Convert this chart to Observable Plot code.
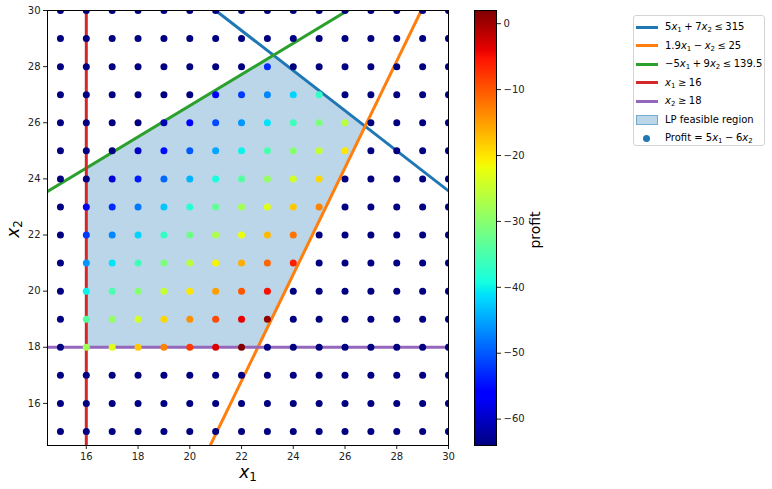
<!DOCTYPE html>
<html>
<head>
<meta charset="utf-8">
<script src="https://cdn.jsdelivr.net/npm/d3@7"></script>
<script src="https://cdn.jsdelivr.net/npm/@observablehq/plot@0.6"></script>
<style>
  body { margin: 0; background: #fff; font-family: "DejaVu Sans", sans-serif; }
  #wrap { position: relative; width: 772px; height: 489px; overflow: hidden; }
  #wrap > * { position: absolute; }
  .lbl { font-size: 17px; color: #000; white-space: nowrap; }
  .lbl sub { font-size: 70%; vertical-align: -0.3em; }
  #legend { left: 633px; top: 15px; width: 132px; height: 131px; border: 1px solid #d4d4d4; border-radius: 3px; box-sizing: border-box; background: #fff; font-size: 10px; }
  #legend .row { position: absolute; left: 0; height: 18px; width: 130px; }
  #legend .txt { position: absolute; left: 31px; top: 0; line-height: 18px; white-space: nowrap; color: #000; }
  #legend .txt sub { font-size: 70%; vertical-align: -0.3em; line-height: 0; }
  #legend .sw { position: absolute; left: 2px; top: 7.5px; width: 22px; height: 3px; }
</style>
</head>
<body>
<div id="wrap"></div>
<script>
// ---- data ----
const gridX1 = [15,16,17,18,19,20,21,22,23,24,25,26,27,28,29,30];
const gridX2 = [15,16,17,18,19,20,21,22,23,24,25,26,27,28,29,30];
// feasible integer points per row: x2 -> [x1 min, x1 max]
const feasRowX2   = [18,19,20,21,22,23,24,25,26,27,28];
const feasRowMin  = [16,16,16,16,16,16,16,18,19,21,23];
const feasRowMax  = [22,23,23,24,24,25,25,26,26,25,23];
// profit coefficients (legend: Profit = 5x1 - 6x2)
const profitCoef = [5, -6];
// constraints a*x1 + b*x2 <= c
const consA = [5, 1.9, -5];
const consB = [7, -1, 9];
const consC = [315, 25, 139.5];
const consColor = ["#1f77b4", "#ff7f0e", "#2ca02c"];
const x1Bound = 16, x2Bound = 18;
const xTicks = [16,18,20,22,24,26,28,30];
const yTicks = [16,18,20,22,24,26,28,30];
const cbTicks = [0,-10,-20,-30,-40,-50,-60];
const profitDomain = [-64, 2];
// jet colormap stops
const jetPos = [0,0.11,0.125,0.34,0.35,0.375,0.64,0.65,0.66,0.89,0.91,1];
const jetCol = ["#000080","#0000ff","#0000ff","#00dbff","#00e5f7","#15ffe2","#eeff08","#f7f500","#ffec00","#ff1300","#e80000","#800000"];

// ---- build tables ----
const feasSet = new Set();
feasRowX2.forEach((x2, i) => { for (let x1 = feasRowMin[i]; x1 <= feasRowMax[i]; x1++) feasSet.add(x1 + "," + x2); });
const points = [];
for (const x1 of gridX1) for (const x2 of gridX2) {
  const feas = feasSet.has(x1 + "," + x2);
  points.push({x1, x2, feas, profit: profitCoef[0]*x1 + profitCoef[1]*x2});
}
const infeas = points.filter(d => !d.feas);
const feas = points.filter(d => d.feas);

const xDom = [14.5, 30], yDom = [14.5, 30];
const lines = [];
consA.forEach((a, i) => {
  for (const x1 of xDom) lines.push({k: i, x1, x2: (consC[i] - a*x1)/consB[i]});
});

// feasible polygon vertices from constraint lines
const allA = [...consA, -1, 0], allB = [...consB, 0, -1], allC = [...consC, -x1Bound, -x2Bound];
const verts = [];
for (let i = 0; i < allA.length; i++) for (let j = i+1; j < allA.length; j++) {
  const det = allA[i]*allB[j] - allA[j]*allB[i];
  if (Math.abs(det) < 1e-9) continue;
  const x = (allC[i]*allB[j] - allC[j]*allB[i]) / det;
  const y = (allA[i]*allC[j] - allA[j]*allC[i]) / det;
  if (allA.every((a, k) => a*x + allB[k]*y <= allC[k] + 1e-7)) verts.push([x, y]);
}
const idx = consA.map((a, k) => k);
const lo = x => Math.max(x2Bound, ...idx.filter(k => consB[k] < 0).map(k => (consC[k]-consA[k]*x)/consB[k]));
const hi = x => Math.min(...idx.filter(k => consB[k] > 0).map(k => (consC[k]-consA[k]*x)/consB[k]));
const xs = Array.from(new Set(verts.map(v => +v[0].toFixed(9)))).sort((a,b)=>a-b);
const region = xs.map(x => ({x, lo: lo(x), hi: hi(x)}));

const colorScale = {
  type: "linear",
  domain: jetPos.map(t => profitDomain[0] + t*(profitDomain[1]-profitDomain[0])),
  range: jetCol,
  interpolate: "rgb",
  clamp: true
};

const font = {fontFamily: "DejaVu Sans", fontSize: "10px", color: "#222", background: "transparent", overflow: "visible"};

const main = Plot.plot({
  width: 460, height: 489,
  marginLeft: 47, marginRight: 12, marginTop: 10, marginBottom: 44,
  style: font,
  x: {domain: xDom, ticks: xTicks, tickSize: 4, tickPadding: 3, label: null},
  y: {domain: yDom, ticks: yTicks, tickSize: 4, tickPadding: 3, label: null},
  color: colorScale,
  marks: [
    Plot.areaY(region, {x: "x", y1: "lo", y2: "hi", fill: "#1f77b4", fillOpacity: 0.3, curve: "linear"}),
    Plot.line(lines, {x: "x1", y: "x2", z: "k", stroke: d => consColor[d.k], strokeWidth: 3, clip: true}),
    Plot.ruleX([x1Bound], {stroke: "#d62728", strokeWidth: 3}),
    Plot.ruleY([x2Bound], {stroke: "#9467bd", strokeWidth: 3}),
    Plot.dot(infeas, {x: "x1", y: "x2", r: 3.5, fill: jetCol[0], clip: true}),
    Plot.dot(feas, {x: "x1", y: "x2", r: 3.5, fill: "profit", clip: true}),
    Plot.frame({stroke: "#000", strokeWidth: 1})
  ]
});
main.style.left = "0px"; main.style.top = "0px";

const cbar = Plot.plot({
  width: 100, height: 489,
  marginLeft: 14, marginRight: 64, marginTop: 10, marginBottom: 44,
  style: font,
  x: {domain: [0, 1], axis: null},
  y: {domain: profitDomain, ticks: cbTicks, axis: "right", tickSize: 4, tickPadding: 3, label: null, tickFormat: d => d < 0 ? "\u2212" + Math.abs(d) : String(d)},
  color: colorScale,
  marks: [
    Plot.raster({x1: 0, x2: 1, y1: profitDomain[0], y2: profitDomain[1], width: 1, height: 400, fill: (x, y) => y, imageRendering: "auto"}),
    Plot.frame({stroke: "#000", strokeWidth: 1})
  ]
});
cbar.style.left = "460px"; cbar.style.top = "0px";

const wrap = document.getElementById("wrap");
wrap.appendChild(main);
wrap.appendChild(cbar);

function addLabel(html, x, y, rot, size) {
  const d = document.createElement("div");
  d.className = "lbl";
  d.innerHTML = html;
  d.style.left = x + "px"; d.style.top = y + "px";
  d.style.fontSize = size + "px";
  d.style.transform = "translate(-50%,-50%)" + (rot ? " rotate(-90deg)" : "");
  wrap.appendChild(d);
}
addLabel("<i>x</i><sub>1</sub>", 248, 473, false, 17);
addLabel("<i>x</i><sub>2</sub>", 14, 229, true, 17);
addLabel("profit", 535, 230, true, 14);

// legend
const sp = "\u2005";
const leg = document.createElement("div");
leg.id = "legend";
const entries = [
  {kind: "line", color: consColor[0], html: `5<i>x</i><sub>1</sub>${sp}+${sp}7<i>x</i><sub>2</sub>${sp}\u2264${sp}315`},
  {kind: "line", color: consColor[1], html: `1.9<i>x</i><sub>1</sub>${sp}\u2212${sp}<i>x</i><sub>2</sub>${sp}\u2264${sp}25`},
  {kind: "line", color: consColor[2], html: `\u22125<i>x</i><sub>1</sub>${sp}+${sp}9<i>x</i><sub>2</sub>${sp}\u2264${sp}139.5`},
  {kind: "line", color: "#d62728", html: `<i>x</i><sub>1</sub>${sp}\u2265${sp}16`},
  {kind: "line", color: "#9467bd", html: `<i>x</i><sub>2</sub>${sp}\u2265${sp}18`},
  {kind: "patch", color: "#1f77b4", html: "LP feasible region"},
  {kind: "dot", color: "#1f77b4", html: `Profit = 5<i>x</i><sub>1</sub>${sp}\u2212${sp}6<i>x</i><sub>2</sub>`}
];
entries.forEach((e, i) => {
  const row = document.createElement("div");
  row.className = "row";
  row.style.top = (2 + i * 18.5) + "px";
  const sw = document.createElement("div");
  sw.className = "sw";
  if (e.kind === "line") { sw.style.background = e.color; }
  else if (e.kind === "patch") {
    sw.style.top = "4px"; sw.style.height = "8px"; sw.style.width = "20px"; sw.style.left = "2px";
    sw.style.background = "rgba(31,119,180,0.3)"; sw.style.border = "1px solid rgba(31,119,180,0.45)";
  } else {
    sw.style.width = "7px"; sw.style.height = "7px"; sw.style.borderRadius = "50%";
    sw.style.left = "9px"; sw.style.top = "6px"; sw.style.background = e.color;
  }
  const t = document.createElement("div");
  t.className = "txt";
  t.innerHTML = e.html;
  row.appendChild(sw); row.appendChild(t);
  leg.appendChild(row);
});
wrap.appendChild(leg);
</script>
</body>
</html>
